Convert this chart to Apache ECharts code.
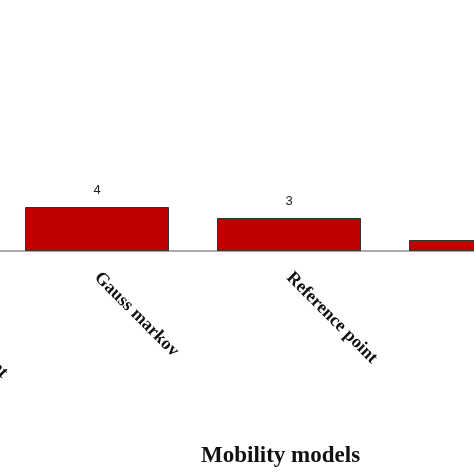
<!DOCTYPE html>
<html><head><meta charset="utf-8">
<script src="https://cdn.jsdelivr.net/npm/echarts@6/dist/echarts.min.js"></script>
<style>html,body{margin:0;background:#fff;overflow:hidden;width:474px;height:474px;position:relative}#c{position:absolute;left:-191.5px;top:0;width:768px;height:474px}</style>
</head><body><div id="c"></div>
<script>
const categories = ['Random waypoint', 'Gauss markov', 'Reference point', 'Steady state'];
const values = [5, 4, 3, 1];
const axisTitle = 'Mobility models';
const chart = echarts.init(document.getElementById('c'));
chart.setOption({
  animation: false,
  title: { text: axisTitle, left: 387, top: 440,
    textStyle: { fontFamily: 'Liberation Serif', fontWeight: 'bold', fontSize: 23, color: '#111' } },
  grid: { left: 0, right: 0, top: 31, bottom: 223, containLabel: false },
  xAxis: { type: 'category', data: categories,
    axisLine: { lineStyle: { color: '#aaa', width: 2 } }, axisTick: { show: false },
    axisLabel: { rotate: -45, interval: 0, margin: 24, color: '#111',
      fontFamily: 'Liberation Serif', fontWeight: 'bold', fontSize: 18 } },
  yAxis: { type: 'value', min: 0, max: 20, show: false, splitLine: { show: false } },
  series: [{ type: 'bar', data: values, barCategoryGap: '25%',
    itemStyle: { color: '#c00000', borderColor: '#333', borderWidth: 1 },
    label: { show: true, position: 'top', distance: 10, color: '#222',
      fontFamily: 'Liberation Sans', fontSize: 13 } }]
});
</script></body></html>
